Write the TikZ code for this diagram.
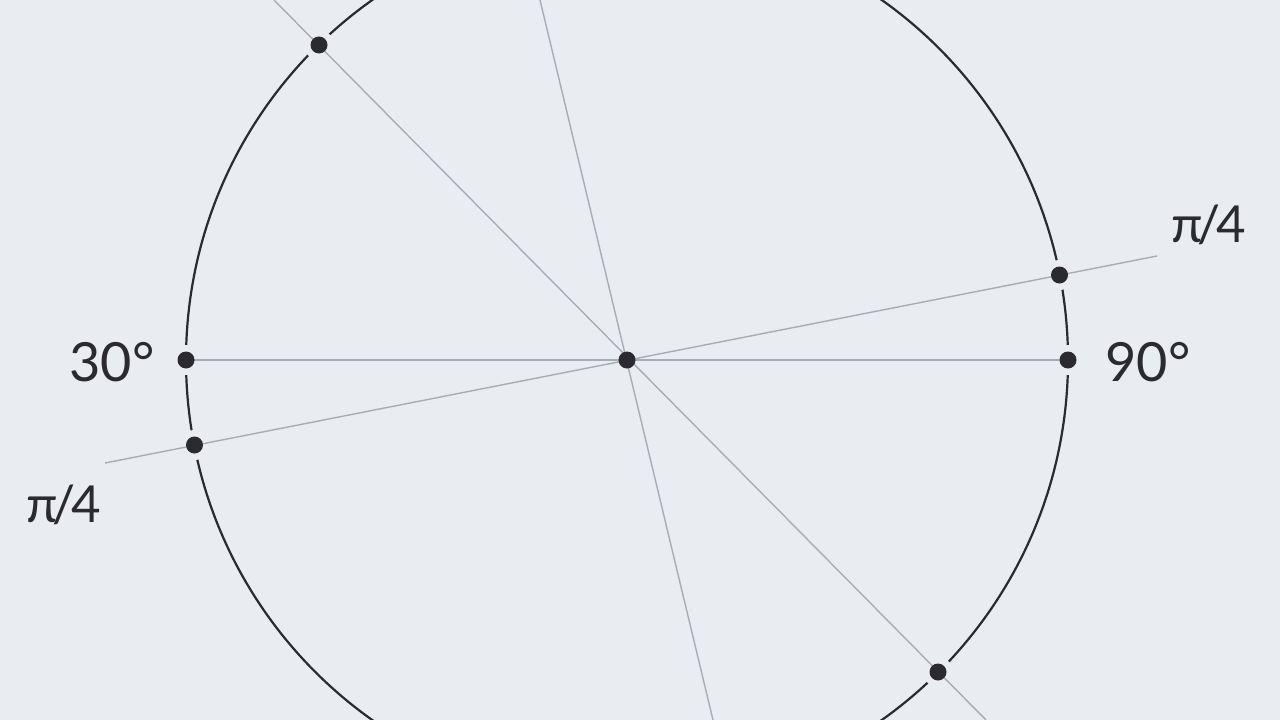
\documentclass[tikz,border=0pt]{standalone}
\usepackage{fontspec}
\setmainfont{Lato}
\definecolor{bg}{HTML}{E9ECF0}
\definecolor{ink}{HTML}{2A2A2F}
\definecolor{ray}{HTML}{A9ACB2}
\newcommand{\pifour}{π\kern-5pt/\kern-4pt4}
\begin{document}
\begin{tikzpicture}[x=1pt,y=-1pt,
  dot/.style={circle,fill=ink,inner sep=0pt,minimum size=17pt},
  halo/.style={circle,fill=bg,inner sep=0pt,minimum size=30pt},
  rayline/.style={draw=ray,line width=1.4pt},
  rim/.style={draw=ink,line width=2.2pt},
  lab/.style={text=ink,font=\fontsize{54}{54}\selectfont,inner sep=0pt},
  labs/.style={text=ink,font=\fontsize{51}{51}\selectfont,inner sep=0pt}]
\fill[bg] (0,0) rectangle (1280,720);
\useasboundingbox (0,0) rectangle (1280,720);
\clip (0,0) rectangle (1280,720);
% coordinates
\coordinate (O) at (627,360);
\coordinate (A30) at (186,360);
\coordinate (A90) at (1068,360);
\coordinate (P1) at (1059.5,275);
\coordinate (P2) at (194.5,445);
\coordinate (Q1) at (319,45);
\coordinate (Q2) at (938,672);
\coordinate (Pend1) at (1157,256);
\coordinate (Pend2) at (105,463);
\coordinate (Qend1) at (274,0);
\coordinate (Qend2) at (986,720);
\coordinate (Vend1) at (540,0);
\coordinate (Vend2) at (713,720);
% circle
\draw[rim] (O) circle[radius=441];
% halos cutting the rim
\foreach \p in {A30,A90,P1,P2,Q1,Q2} \node[halo] at (\p) {};
% rays
\draw[rayline] (A30) -- (A90);
\draw[rayline] (Pend2) -- (Pend1);
\draw[rayline] (Qend1) -- (Qend2);
\draw[rayline] (Vend1) -- (Vend2);
% dots
\node[dot] (dO) at (O) {};
\node[dot] (d30) at (A30) {};
\node[dot] (d90) at (A90) {};
\node[dot] (dP1) at (P1) {};
\node[dot] (dP2) at (P2) {};
\node[dot] (dQ1) at (Q1) {};
\node[dot] (dQ2) at (Q2) {};
% labels
\node[lab] (l30) at (112,362) {30°};
\node[lab] (l90) at (1148,362) {90°};
\node[labs] (lp1) at (1209,225) {\pifour};
\node[labs] (lp2) at (64,505) {\pifour};
\end{tikzpicture}
\end{document}
